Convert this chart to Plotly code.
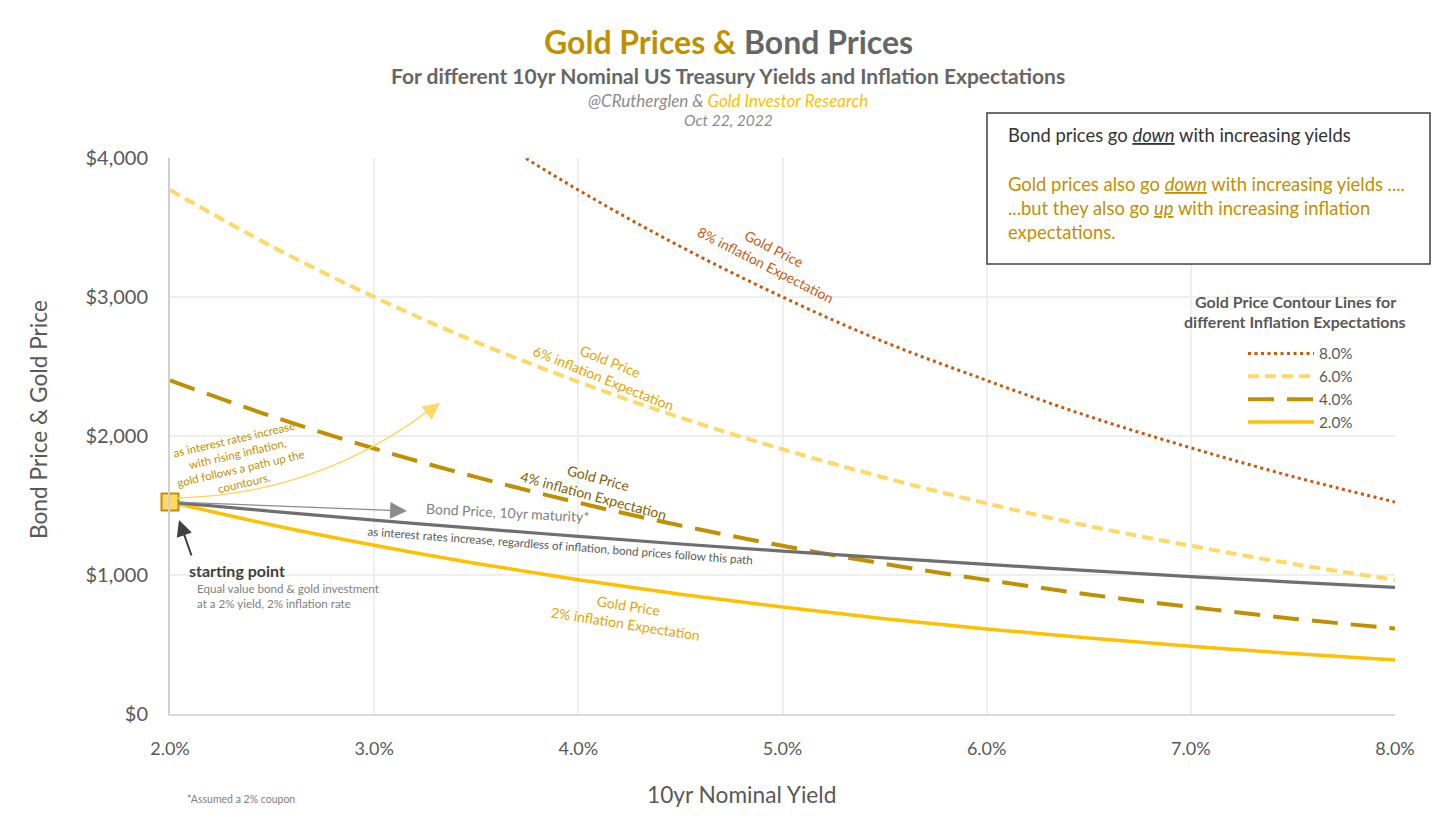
import plotly.graph_objects as go

# ---------------- data ----------------
yields = [2.0, 2.5, 3.0, 3.5, 4.0, 4.5, 5.0, 5.5, 6.0, 6.5, 7.0, 7.5, 8.0]
gold_8 = [5950, 5310, 4735, 4225, 3770, 3363, 3000, 2676, 2400, 2141, 1915, 1708, 1525]
gold_6 = [3770, 3363, 3000, 2676, 2390, 2132, 1905, 1700, 1515, 1352, 1210, 1080, 965]
gold_4 = [2400, 2141, 1910, 1704, 1520, 1356, 1210, 1080, 965, 860, 770, 686, 615]
gold_2 = [1525, 1360, 1214, 1083, 966, 862, 769, 686, 612, 546, 487, 435, 388]
bond = [1525, 1458, 1395, 1335, 1278, 1223, 1172, 1123, 1076, 1032, 989, 949, 911]
start_x = [2.0]
start_y = [1525]
x_ticks = [2, 3, 4, 5, 6, 7, 8]
x_tick_labels = ["2.0%", "3.0%", "4.0%", "5.0%", "6.0%", "7.0%", "8.0%"]
y_ticks = [0, 1000, 2000, 3000, 4000]
y_tick_labels = ["$0", "$1,000", "$2,000", "$3,000", "$4,000"]
legend_names = ["8.0%", "6.0%", "4.0%", "2.0%"]

FONT = "Lato"
GRAY = "#595959"

# plot area in pixels: left 170, right 1395, top 158, bottom 714
L, R, T, B = 170, 1395, 158, 714


def P(xp, yp):
    return (xp - L) / (R - L), (B - yp) / (B - T)


fig = go.Figure()

series = [
    (gold_8, legend_names[0], "#C55A11", 3, "3px,3.5px"),
    (gold_6, legend_names[1], "#FFD966", 4, "11px,6px"),
    (gold_4, legend_names[2], "#BF9000", 4, "26px,13px"),
    (gold_2, legend_names[3], "#FFC000", 3.5, "solid"),
]
for vals, name, col, w, dash in series:
    fig.add_trace(go.Scatter(x=yields, y=vals, name=name, mode="lines",
                             line=dict(color=col, width=w, dash=dash, shape="spline"),
                             showlegend=True))

fig.add_trace(go.Scatter(x=yields, y=bond, mode="lines", showlegend=False,
                         line=dict(color="#6F6F6F", width=3.2, shape="spline")))

fig.add_trace(go.Scatter(x=start_x, y=start_y, mode="markers", showlegend=False,
                         cliponaxis=False,
                         marker=dict(symbol="square", size=17, color="#FFD966",
                                     line=dict(color="#BF9000", width=2))))

ann = []


def text(xp, yp, t, size, color, xanchor="center", angle=0, align="center", yanchor="middle"):
    x, y = P(xp, yp)
    ann.append(dict(x=x, y=y, xref="paper", yref="paper", text=t, showarrow=False,
                    font=dict(family=FONT, size=size, color=color), xanchor=xanchor,
                    yanchor=yanchor, textangle=angle, align=align))


# titles
text(728, 42, "<b><span style='color:#BF9000'>Gold Prices &</span> <span style='color:#666666'>Bond Prices</span></b>", 32, "#666666")
text(728, 75, "<b>For different 10yr Nominal US Treasury Yields and Inflation Expectations</b>", 21, "#666666")
text(728, 100, "<i>@CRutherglen & <span style='color:#FFC000'>Gold Investor Research</span></i>", 17, "#8C8C8C")
text(728, 120, "<i>Oct 22, 2022</i>", 15.5, "#8C8C8C")

# axis titles
text(38, 420, "Bond Price & Gold Price", 22.7, GRAY, angle=-90)
text(741, 794, "10yr Nominal Yield", 22.7, GRAY)
text(185, 799, "*Assumed a 2% coupon", 10.5, "#808080", xanchor="left")

# info box
text(1006, 135, "Bond prices go <u><i>down</i></u> with increasing yields", 18.4, "#333333", xanchor="left")
text(1006, 184, "Gold prices also go <u><i>down</i></u> with increasing yields ....", 18.4, "#BF9000", xanchor="left")
text(1006, 208, "...but they also go <u><i>up</i></u> with increasing inflation", 18.4, "#BF9000", xanchor="left")
text(1006, 232, "expectations.", 18.4, "#BF9000", xanchor="left")

# legend title
text(1295, 301, "<b>Gold Price Contour Lines for</b>", 16, GRAY)
text(1295, 321, "<b>different Inflation Expectations</b>", 16, GRAY)

# curve labels
text(770, 256, "Gold Price<br>8% inflation Expectation", 14, "#C55A11", angle=27)
text(607, 369, "Gold Price<br>6% inflation Expectation", 14, "#E6A400", angle=22)
text(596, 486, "Gold Price<br>4% inflation Expectation", 14, "#7F6000", angle=15)
text(627, 614, "Gold Price<br>2% inflation Expectation", 14, "#E6A400", angle=9)
text(507, 512, "Bond Price, 10yr maturity*", 14, "#7F7F7F", angle=3)
text(560, 545, "as interest rates increase, regardless of inflation, bond prices follow this path", 11.6, GRAY, angle=4.3)
text(239, 461, "as interest rates increase<br>with rising inflation,<br>gold follows a path up the<br>countours.", 11.5, "#BF9000", angle=-13)
text(187, 570, "<b>starting point</b>", 16, "#404040", xanchor="left")
text(195, 596, "Equal value bond & gold investment<br>at a 2% yield, 2% inflation rate", 11.6, "#808080", xanchor="left", align="left")


# arrows
def arrow(hx, hy, tx, ty, color, width, size, head=2):
    x, y = P(hx, hy)
    ann.append(dict(x=x, y=y, xref="paper", yref="paper", ax=tx - hx, ay=ty - hy,
                    showarrow=True, arrowhead=head, arrowsize=size, arrowwidth=width,
                    arrowcolor=color, text=""))


arrow(407, 511, 176, 502, "#8C8C8C", 1.3, 2.6)
arrow(179, 520, 192, 557, "#404040", 2, 1.6)
arrow(440, 403, 428, 412, "#FFD966", 1.3, 2.6)

shapes = []
# curved yellow arrow body
p0 = P(178, 498)
p1 = P(320, 494)
p2 = P(432, 408)
shapes.append(dict(type="path", xref="paper", yref="paper",
                   path=f"M {p0[0]},{p0[1]} Q {p1[0]},{p1[1]} {p2[0]},{p2[1]}",
                   line=dict(color="#FFD34D", width=1.3)))
# info box
b0 = P(987, 113)
b1 = P(1430, 264)
shapes.append(dict(type="rect", xref="paper", yref="paper", x0=b0[0], y0=b1[1], x1=b1[0], y1=b0[1],
                   line=dict(color="#404040", width=1.5), fillcolor="white", layer="above"))

lx, ly = P(1243, 337)
fig.update_layout(
    width=1456, height=828,
    margin=dict(l=L, r=1456 - R, t=T, b=828 - B),
    paper_bgcolor="white", plot_bgcolor="white",
    font=dict(family=FONT, color=GRAY),
    annotations=ann, shapes=shapes,
    legend=dict(x=lx, y=ly, xanchor="left", yanchor="top", bgcolor="rgba(0,0,0,0)",
                itemwidth=66, traceorder="normal",
                font=dict(family=FONT, size=15.3, color=GRAY)),
    xaxis=dict(range=[2, 8], tickvals=x_ticks, ticktext=x_tick_labels, showgrid=True,
               gridcolor="#EFEFEF", gridwidth=1.5, showline=True, linecolor="#D9D9D9", linewidth=1.5,
               zeroline=False, ticks="", ticklabelstandoff=18,
               tickfont=dict(family=FONT, size=18, color=GRAY)),
    yaxis=dict(range=[0, 4000], tickvals=y_ticks, ticktext=y_tick_labels, showgrid=True,
               gridcolor="#EFEFEF", gridwidth=1.5, showline=True, linecolor="#D0D0D0", linewidth=2,
               zeroline=False, ticks="", ticklabelstandoff=16,
               tickfont=dict(family=FONT, size=20, color=GRAY)),
)

fig.write_html("out.html")
